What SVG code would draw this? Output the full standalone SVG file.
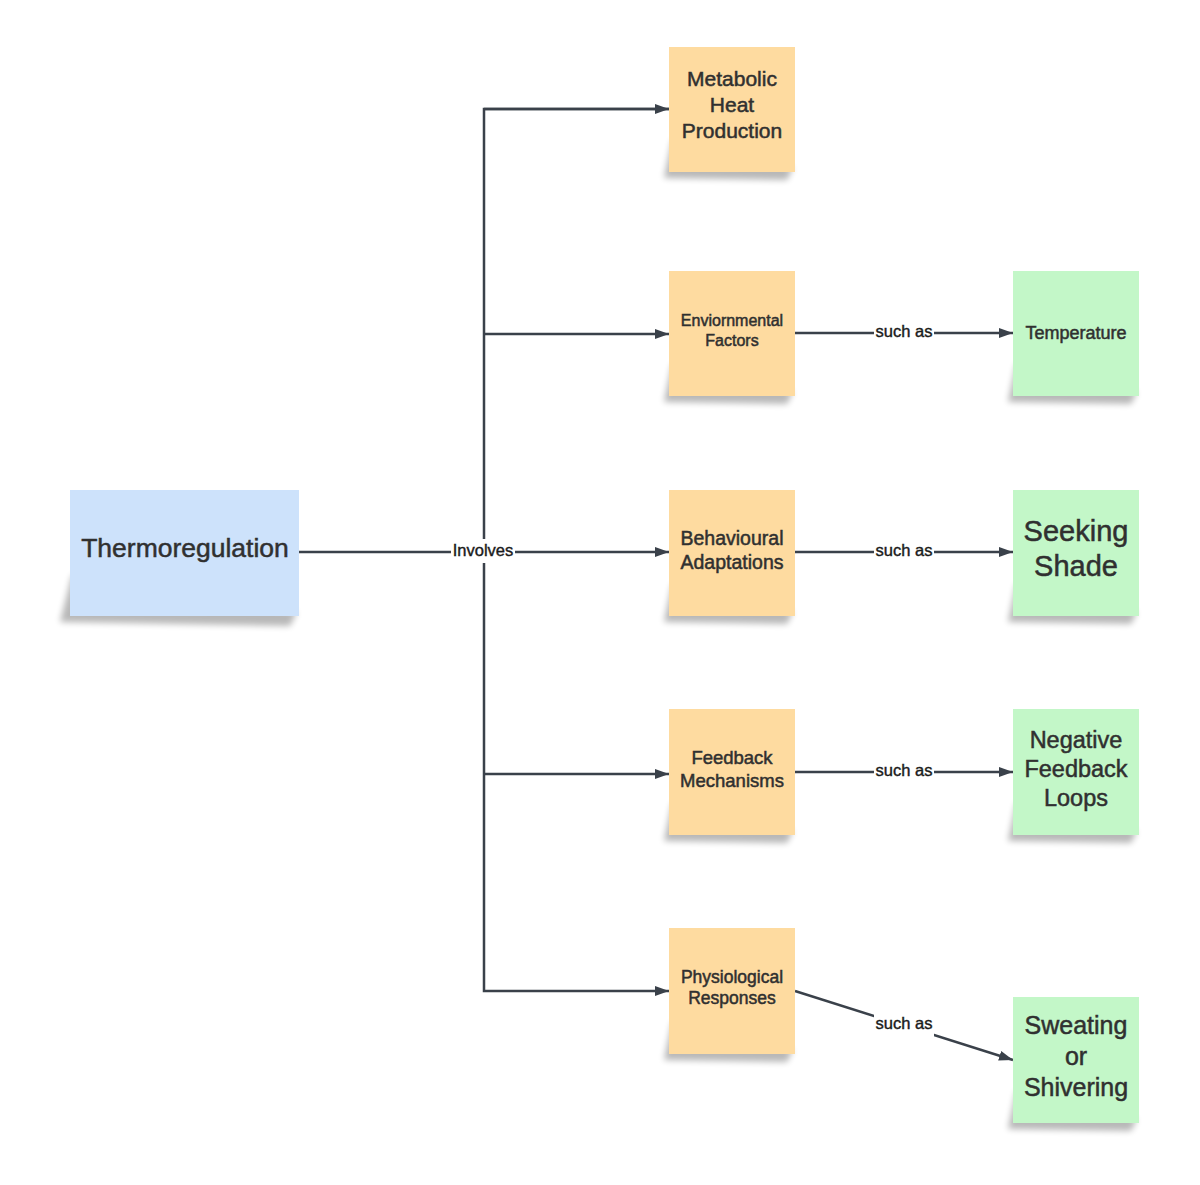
<svg xmlns="http://www.w3.org/2000/svg" width="1200" height="1185" viewBox="0 0 1200 1185">
<style>
.t{font-family:"Liberation Sans",Arial,sans-serif;fill:#303030;stroke:#303030;stroke-width:0.5;text-anchor:middle}
.lbl{font-family:"Liberation Sans",Arial,sans-serif;fill:#1a1a1a;stroke:#1a1a1a;stroke-width:0.4;text-anchor:middle;font-size:16.5px}
.ln{fill:none;stroke:#3a414a;stroke-width:2.5}
.sh{fill:#000;opacity:.28;filter:url(#blur)}
.blue{fill:#cde2fb}
.orange{fill:#fedba0}
.green{fill:#c3f7c8}
</style>
<defs>
<filter id="blur" x="-20%" y="-20%" width="140%" height="140%"><feGaussianBlur stdDeviation="3"/></filter>
<marker id="ah" viewBox="0 0 14 10" refX="14" refY="5" markerWidth="14" markerHeight="10" markerUnits="userSpaceOnUse" orient="auto"><path d="M0,0 L14,5 L0,10 z" fill="#3a414a"/></marker>
</defs>
<rect width="1200" height="1185" fill="#ffffff"/>

<g id="connectors">
<path class="ln" d="M299,552 H669" marker-end="url(#ah)"/>
<path class="ln" d="M669,109 H484 V991 H669" marker-end="url(#ah)"/>
<path class="ln" d="M484,109 H669" marker-end="url(#ah)"/>
<path class="ln" d="M484,334 H669" marker-end="url(#ah)"/>
<path class="ln" d="M484,774 H669" marker-end="url(#ah)"/>
<path class="ln" d="M795,333 H1013" marker-end="url(#ah)"/>
<path class="ln" d="M795,552 H1013" marker-end="url(#ah)"/>
<path class="ln" d="M795,772 H1013" marker-end="url(#ah)"/>
<path class="ln" d="M795,991 L1013,1060" marker-end="url(#ah)"/>
<rect x="451" y="539" width="64" height="24" fill="#ffffff"/>
<text class="lbl" x="483" y="556">Involves</text>
<rect x="874" y="322" width="60" height="20" fill="#ffffff"/>
<text class="lbl" x="904" y="337">such as</text>
<rect x="874" y="541" width="60" height="20" fill="#ffffff"/>
<text class="lbl" x="904" y="556">such as</text>
<rect x="874" y="761" width="60" height="20" fill="#ffffff"/>
<text class="lbl" x="904" y="776">such as</text>
<rect x="874" y="1011" width="60" height="26" fill="#ffffff"/>
<text class="lbl" x="904" y="1029">such as</text>
</g>

<g id="thermoregulation">
<path class="sh" d="M72,575 L60,622 L290,626 L297,612 Z"/>
<rect class="blue" x="70" y="490" width="229" height="126"/>
<text class="t" x="185" y="557" font-size="26.5">Thermoregulation</text>
</g>

<g id="metabolic">
<path class="sh" d="M672,140 L664,178 L787,180 L793,168 Z"/>
<rect class="orange" x="669" y="47" width="126" height="125"/>
<text class="t" font-size="21"><tspan x="732" y="86">Metabolic</tspan><tspan x="732" y="112">Heat</tspan><tspan x="732" y="138">Production</tspan></text>
</g>

<g id="environmental">
<path class="sh" d="M672,364 L664,402 L787,404 L793,392 Z"/>
<rect class="orange" x="669" y="271" width="126" height="125"/>
<text class="t" font-size="16"><tspan x="732" y="326">Enviornmental</tspan><tspan x="732" y="346">Factors</tspan></text>
</g>

<g id="behavioural">
<path class="sh" d="M672,584 L664,622 L787,624 L793,612 Z"/>
<rect class="orange" x="669" y="490" width="126" height="126"/>
<text class="t" font-size="19.5"><tspan x="732" y="545">Behavioural</tspan><tspan x="732" y="569">Adaptations</tspan></text>
</g>

<g id="feedback">
<path class="sh" d="M672,803 L664,841 L787,843 L793,831 Z"/>
<rect class="orange" x="669" y="709" width="126" height="126"/>
<text class="t" font-size="18.5"><tspan x="732" y="764">Feedback</tspan><tspan x="732" y="787">Mechanisms</tspan></text>
</g>

<g id="physiological">
<path class="sh" d="M672,1022 L664,1060 L787,1062 L793,1050 Z"/>
<rect class="orange" x="669" y="928" width="126" height="126"/>
<text class="t" font-size="17.5"><tspan x="732" y="983">Physiological</tspan><tspan x="732" y="1004">Responses</tspan></text>
</g>

<g id="temperature">
<path class="sh" d="M1016,364 L1008,402 L1131,404 L1137,392 Z"/>
<rect class="green" x="1013" y="271" width="126" height="125"/>
<text class="t" x="1076" y="339" font-size="18">Temperature</text>
</g>

<g id="seeking-shade">
<path class="sh" d="M1016,584 L1008,622 L1131,624 L1137,612 Z"/>
<rect class="green" x="1013" y="490" width="126" height="126"/>
<text class="t" font-size="29"><tspan x="1076" y="541">Seeking</tspan><tspan x="1076" y="576">Shade</tspan></text>
</g>

<g id="negative-feedback">
<path class="sh" d="M1016,803 L1008,841 L1131,843 L1137,831 Z"/>
<rect class="green" x="1013" y="709" width="126" height="126"/>
<text class="t" font-size="23.5"><tspan x="1076" y="748">Negative</tspan><tspan x="1076" y="777">Feedback</tspan><tspan x="1076" y="806">Loops</tspan></text>
</g>

<g id="sweating">
<path class="sh" d="M1016,1091 L1008,1129 L1131,1131 L1137,1119 Z"/>
<rect class="green" x="1013" y="997" width="126" height="126"/>
<text class="t" font-size="25"><tspan x="1076" y="1034">Sweating</tspan><tspan x="1076" y="1065">or</tspan><tspan x="1076" y="1096">Shivering</tspan></text>
</g>
</svg>
